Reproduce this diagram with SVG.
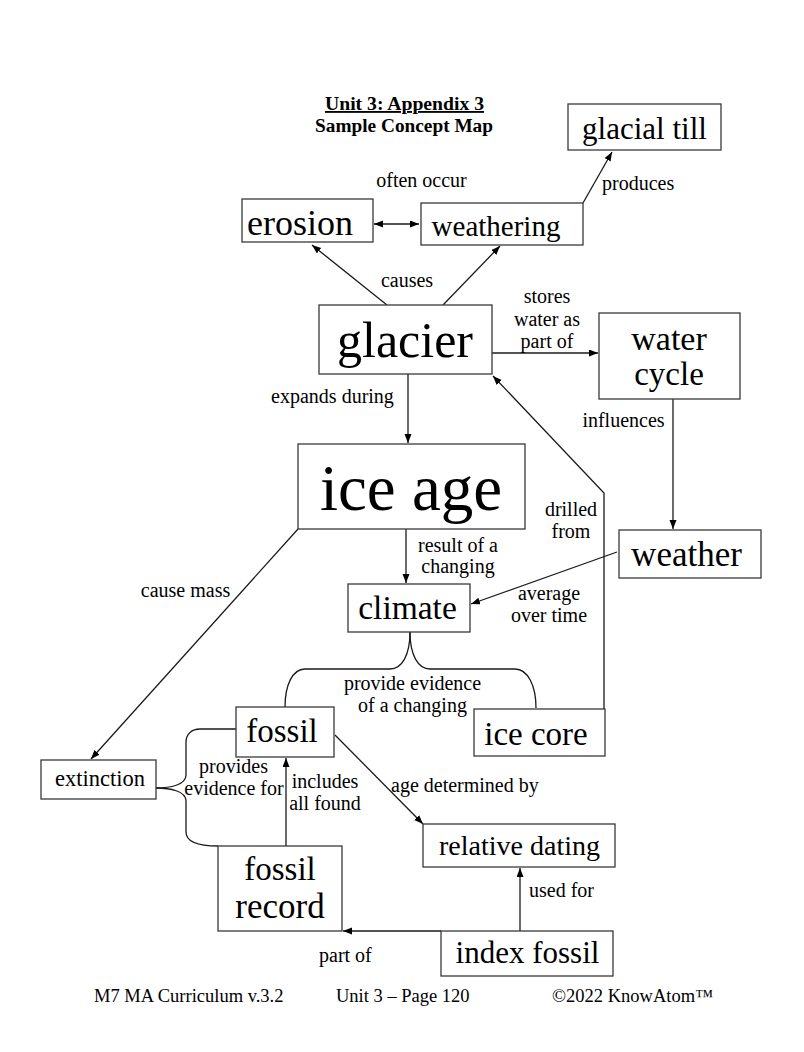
<svg xmlns="http://www.w3.org/2000/svg" width="804" height="1052" viewBox="0 0 804 1052">
<style>
.box{fill:#fff;stroke:#3a3a3a;stroke-width:1.3}
.t{font-family:"Liberation Serif","Times New Roman",serif;fill:#000;text-anchor:middle}
.lbl{font-family:"Liberation Serif","Times New Roman",serif;fill:#000;font-size:20px}
.c{text-anchor:middle}
.ttl{font-family:"Liberation Serif","Times New Roman",serif;font-weight:bold;font-size:18.5px;text-anchor:middle}
.ft{font-family:"Liberation Serif","Times New Roman",serif;font-size:18.5px}
.ln{fill:none;stroke:#1a1a1a;stroke-width:1.3}
.arr{marker-end:url(#ah)}
</style>
<defs>
<marker id="ah" markerUnits="userSpaceOnUse" markerWidth="10" markerHeight="8" refX="9" refY="3.5" orient="auto">
<path d="M0,0 L9,3.5 L0,7 z" fill="#000"/>
</marker>
<marker id="ahs" markerUnits="userSpaceOnUse" markerWidth="10" markerHeight="8" refX="9" refY="3.5" orient="auto-start-reverse">
<path d="M0,0 L9,3.5 L0,7 z" fill="#000"/>
</marker>
</defs>
<rect width="804" height="1052" fill="#fff"/>

<g id="title">
<text class="ttl" x="404.5" y="110" textLength="159" lengthAdjust="spacingAndGlyphs" text-decoration="underline">Unit 3: Appendix 3</text>
<text class="ttl" x="404" y="132" textLength="178" lengthAdjust="spacingAndGlyphs">Sample Concept Map</text>
</g>

<g id="connectors">
<path class="ln arr" d="M387,305 L312,245"/>
<path class="ln arr" d="M443,305 L500,246"/>
<path class="ln" d="M374,224 L419,224" marker-start="url(#ahs)" marker-end="url(#ahs)"/>
<path class="ln arr" d="M583,203 L612,152"/>
<path class="ln arr" d="M492,353 L598,353"/>
<path class="ln arr" d="M408,374 L408,443"/>
<path class="ln arr" d="M673,399 L673,529"/>
<path class="ln arr" d="M604,709 L604,493 L493,376"/>
<path class="ln arr" d="M406,529 L406,583"/>
<path class="ln arr" d="M617,552 L471,604"/>
<path class="ln arr" d="M298,529 L91,759"/>
<path class="ln" d="M410,632 C410,655 402,669 390,669 L305,669 C292,669 285,686 285,707"/>
<path class="ln" d="M410,632 C410,655 418,669 430,669 L515,669 C528,669 536,686 536,708"/>
<path class="ln" d="M156,788 C170,788 186,785 186,775 L186,742 C186,734 192,729 200,729 L236,729"/>
<path class="ln" d="M156,788 C170,788 186,791 186,801 L186,832 C186,840 194,846 218,846"/>
<path class="ln arr" d="M286,846 L286,758"/>
<path class="ln arr" d="M335,735 L423,824"/>
<path class="ln arr" d="M520,931 L520,868"/>
<path class="ln arr" d="M441,931 L343,931"/>
</g>

<g id="labels">
<text class="lbl c" x="421.5" y="187">often occur</text>
<text class="lbl" x="602" y="190">produces</text>
<text class="lbl c" x="407" y="287">causes</text>
<text class="lbl c" x="547" y="303">stores</text>
<text class="lbl c" x="547" y="326">water as</text>
<text class="lbl c" x="547" y="348">part of</text>
<text class="lbl c" x="332.5" y="403">expands during</text>
<text class="lbl c" x="623.5" y="427">influences</text>
<text class="lbl c" x="571" y="516">drilled</text>
<text class="lbl c" x="571" y="538">from</text>
<text class="lbl c" x="458" y="552">result of a</text>
<text class="lbl c" x="458" y="573">changing</text>
<text class="lbl c" x="185.5" y="597">cause mass</text>
<text class="lbl c" x="549" y="600">average</text>
<text class="lbl c" x="549" y="622">over time</text>
<text class="lbl c" x="412.5" y="690">provide evidence</text>
<text class="lbl c" x="412.5" y="712">of a changing</text>
<text class="lbl c" x="233.5" y="773">provides</text>
<text class="lbl c" x="234" y="795">evidence for</text>
<text class="lbl c" x="325" y="788">includes</text>
<text class="lbl c" x="325" y="810">all found</text>
<text class="lbl" x="391" y="792">age determined by</text>
<text class="lbl" x="529" y="897">used for</text>
<text class="lbl" x="319" y="962">part of</text>
</g>

<g id="glacial-till"><rect class="box" x="568" y="104" width="153" height="46"/><text class="t" x="644.5" y="139" font-size="31">glacial till</text></g>
<g id="erosion"><rect class="box" x="242" y="199" width="131" height="43"/><text class="t" x="300" y="235" font-size="36">erosion</text></g>
<g id="weathering"><rect class="box" x="421" y="203" width="162" height="42"/><text class="t" x="496" y="236" font-size="29">weathering</text></g>
<g id="glacier"><rect class="box" x="319" y="305" width="173" height="69"/><text class="t" x="405" y="357" font-size="50">glacier</text></g>
<g id="water-cycle"><rect class="box" x="599" y="313" width="141" height="86"/><text class="t" x="669" y="350" font-size="34">water</text><text class="t" x="669" y="385" font-size="33">cycle</text></g>
<g id="ice-age"><rect class="box" x="298" y="444" width="227" height="85"/><text class="t" x="411" y="510" font-size="65">ice age</text></g>
<g id="weather"><rect class="box" x="619" y="530" width="142" height="48"/><text class="t" x="686.5" y="566" font-size="35">weather</text></g>
<g id="climate"><rect class="box" x="348" y="584" width="122" height="48"/><text class="t" x="407.5" y="619" font-size="33.5">climate</text></g>
<g id="fossil"><rect class="box" x="236" y="707" width="98" height="50"/><text class="t" x="282" y="742" font-size="33">fossil</text></g>
<g id="ice-core"><rect class="box" x="474" y="709" width="131" height="47"/><text class="t" x="536" y="745" font-size="33">ice core</text></g>
<g id="extinction"><rect class="box" x="41" y="760" width="115" height="39"/><text class="t" x="100" y="786" font-size="22.5">extinction</text></g>
<g id="relative-dating"><rect class="box" x="423" y="824" width="192" height="43"/><text class="t" x="519.5" y="855" font-size="28">relative dating</text></g>
<g id="fossil-record"><rect class="box" x="218" y="846" width="124" height="85"/><text class="t" x="280" y="880" font-size="33">fossil</text><text class="t" x="280" y="918" font-size="35">record</text></g>
<g id="index-fossil"><rect class="box" x="441" y="931" width="172" height="45"/><text class="t" x="527.5" y="963" font-size="31">index fossil</text></g>

<g id="footer">
<text class="ft" x="94" y="1002">M7 MA Curriculum v.3.2</text>
<text class="ft" x="336" y="1002">Unit 3 – Page 120</text>
<text class="ft" x="552" y="1002">©2022 KnowAtom™</text>
</g>
</svg>
